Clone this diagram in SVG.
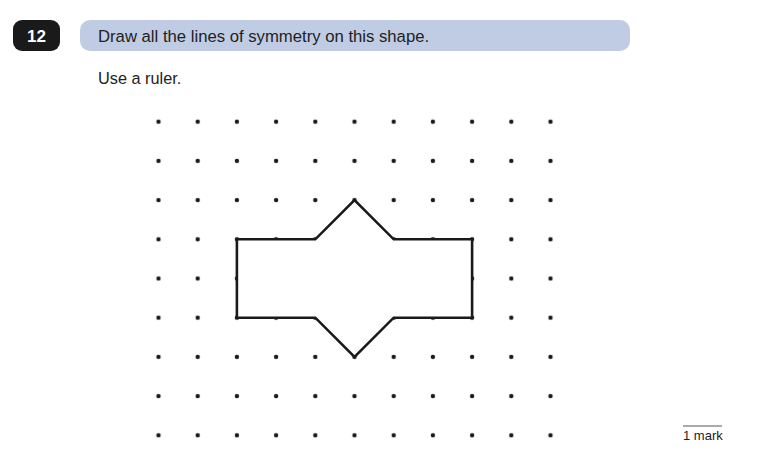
<svg xmlns="http://www.w3.org/2000/svg" width="768" height="468" viewBox="0 0 768 468">
<style>
.t{font-family:"Liberation Sans",Arial,sans-serif;fill:#222}
.dot{fill:#1a1a1a}
</style>
<defs>
<pattern id="dots" x="158.5" y="121.7" width="39.2" height="39.2" patternUnits="userSpaceOnUse">
<circle cx="0" cy="0" r="2.2" class="dot"/>
<circle cx="39.2" cy="0" r="2.2" class="dot"/>
<circle cx="0" cy="39.2" r="2.2" class="dot"/>
<circle cx="39.2" cy="39.2" r="2.2" class="dot"/>
</pattern>
</defs>
<rect width="768" height="468" fill="#fff"/>
<g id="number">
<rect x="13" y="20" width="47" height="31" rx="9" fill="#1a1a1a"/>
<text x="36.5" y="42" text-anchor="middle" font-family="Liberation Sans,Arial,sans-serif" font-weight="bold" font-size="17" fill="#fff">12</text>
</g>
<g id="question">
<rect x="80" y="20" width="550" height="31" rx="10" fill="#c0cbe4"/>
<text class="t" x="98" y="42" font-size="16.7">Draw all the lines of symmetry on this shape.</text>
</g>
<text id="ruler" class="t" x="98" y="84" font-size="16.3">Use a ruler.</text>
<g id="grid">
<rect x="155" y="118" width="400" height="321" fill="url(#dots)"/>
</g>
<g id="shape">
<polygon points="236.9,239.3 315.3,239.3 354.5,200.1 393.7,239.3 472.1,239.3 472.1,317.7 393.7,317.7 354.5,356.9 315.3,317.7 236.9,317.7" fill="#fff" stroke="#1a1a1a" stroke-width="2.6" stroke-linejoin="miter"/>
</g>
<g id="mark">
<line x1="683" y1="426" x2="722" y2="426" stroke="#555" stroke-width="1"/>
<text class="t" x="683" y="440" font-size="13">1 mark</text>
</g>
</svg>
